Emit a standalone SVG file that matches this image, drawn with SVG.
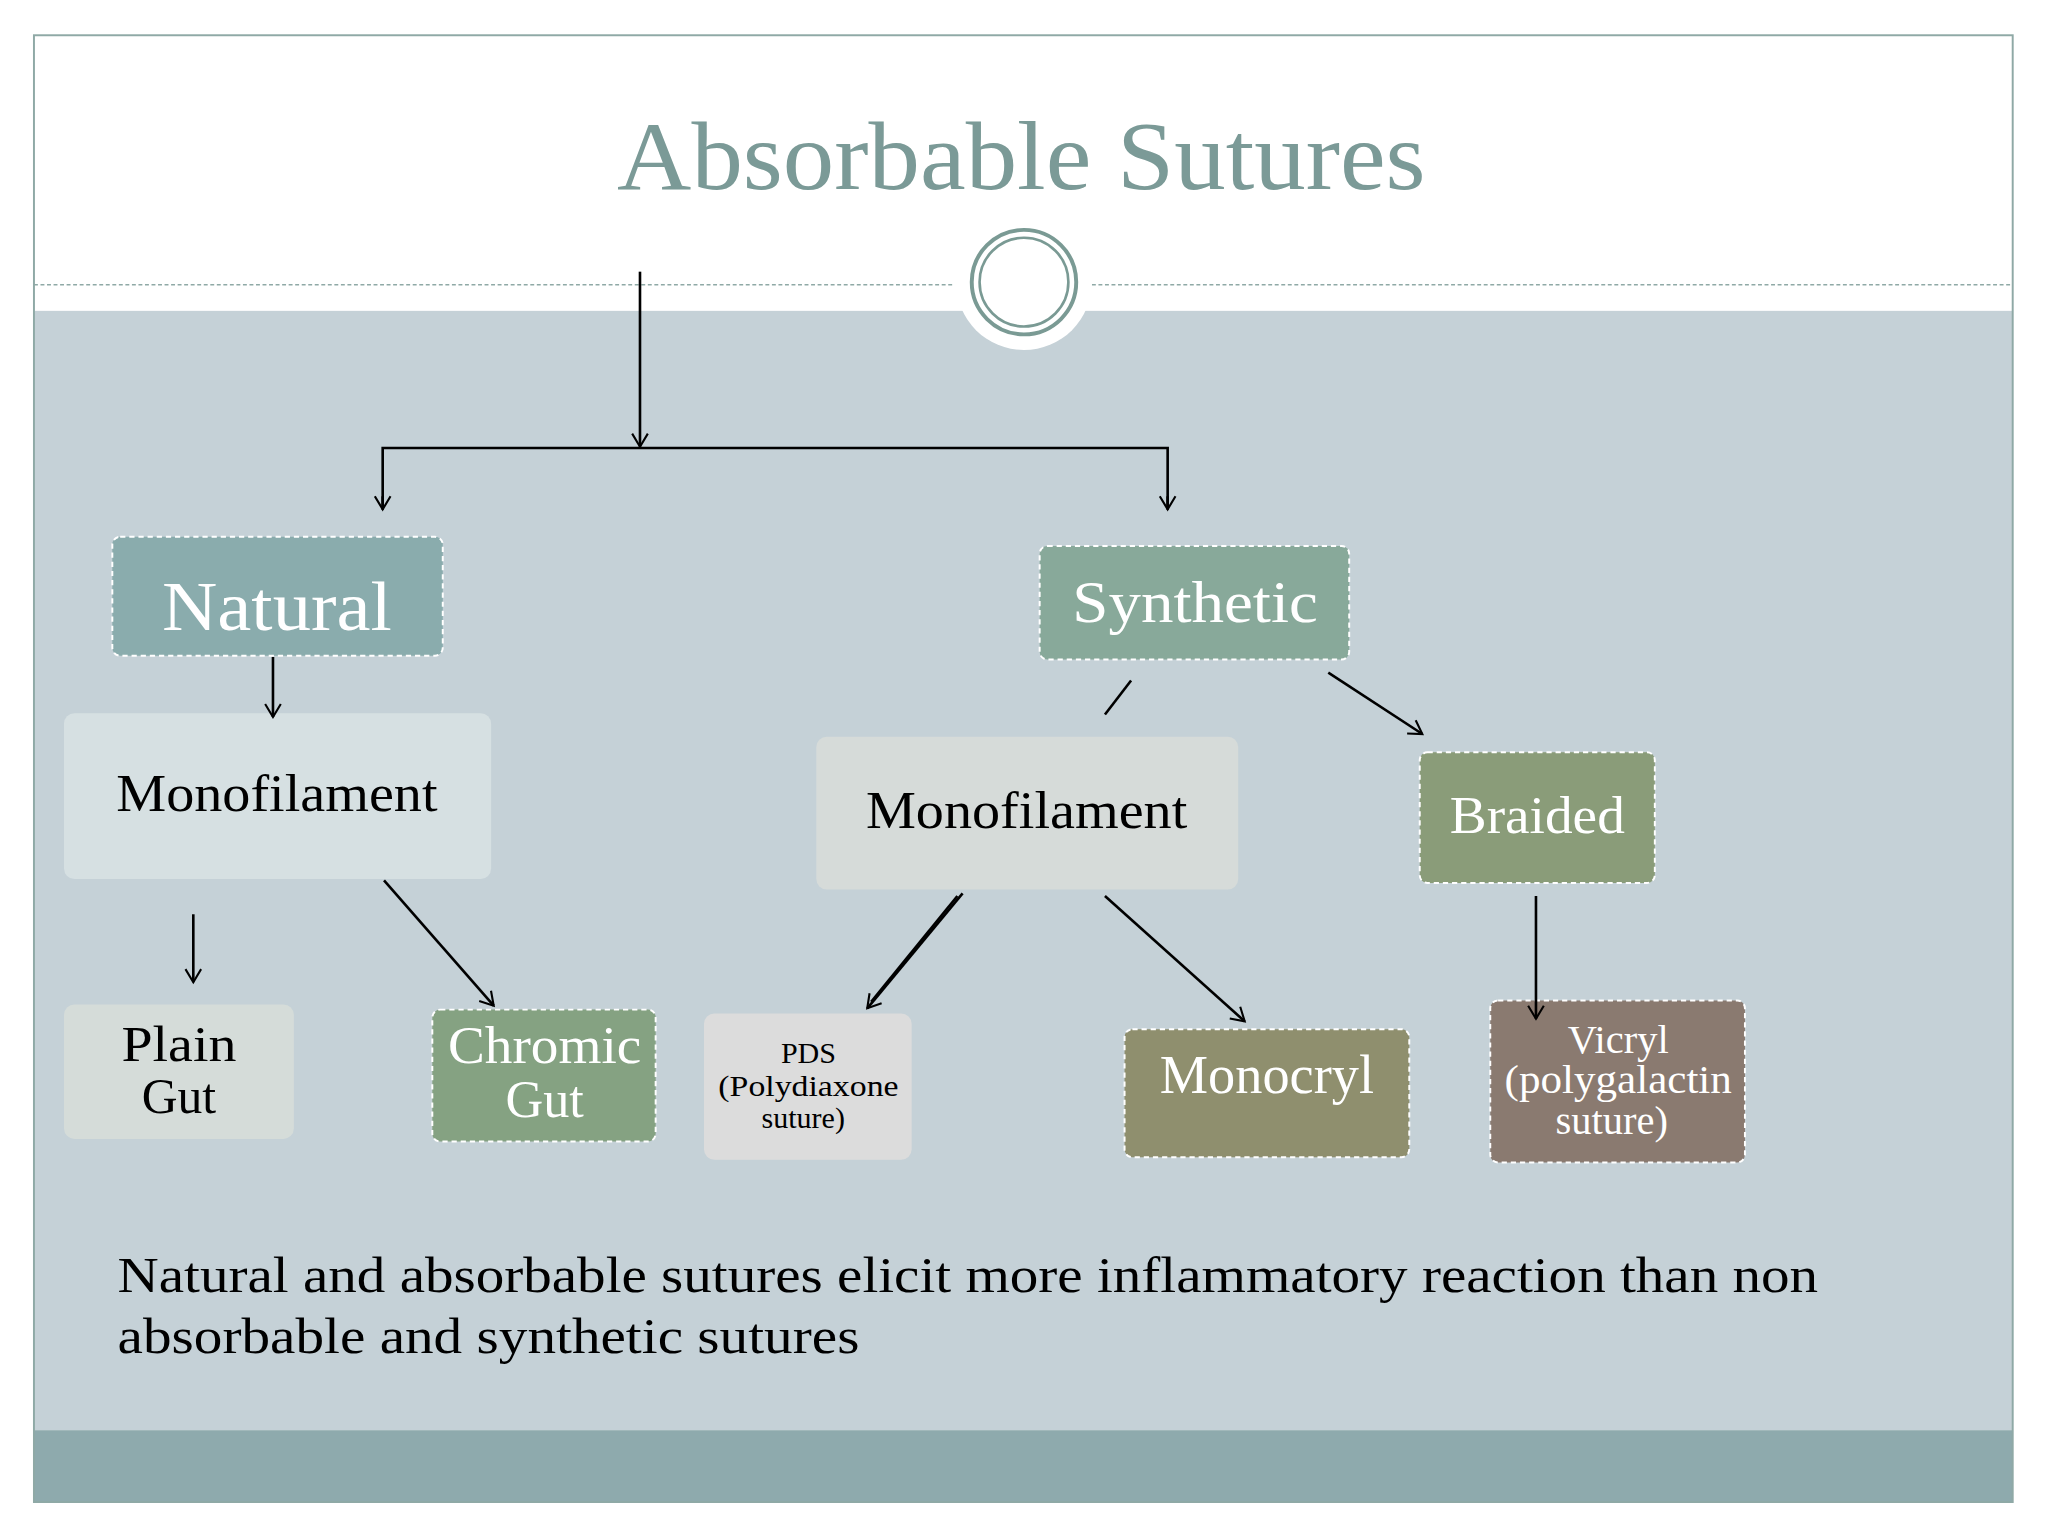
<svg xmlns="http://www.w3.org/2000/svg" width="2048" height="1536" viewBox="0 0 2048 1536">
<defs>
<marker id="ah" markerWidth="14" markerHeight="14" refX="11" refY="7" orient="auto" markerUnits="userSpaceOnUse"><path d="M1,1 L11,7 L1,13" fill="none" stroke="#000" stroke-width="1.6"/></marker>
<style>
.t{font-family:"Liberation Serif","DejaVu Serif",serif;text-anchor:middle}
.w{fill:#fff}
.b{fill:#000}
.dash{stroke:#fff;stroke-width:1.5;stroke-dasharray:4 3}
.c{stroke:#000;stroke-width:2;fill:none}
</style>
</defs>
<rect width="2048" height="1536" fill="#fff"/>
<g transform="scale(1.3061)">
<rect x="26" y="238" width="1515" height="857" fill="#c5d1d7"/>
<rect x="26" y="1095" width="1515" height="55" fill="#8eaaad"/>
<rect x="26" y="27" width="1515" height="1123" fill="none" stroke="#8fa9a6" stroke-width="1.5"/>
<line x1="26" y1="218" x2="730" y2="218" stroke="#8fa9a6" stroke-dasharray="3 2"/>
<line x1="836" y1="218" x2="1541" y2="218" stroke="#8fa9a6" stroke-dasharray="3 2"/>
<circle cx="784" cy="216" r="52" fill="#fff"/>
<circle cx="784" cy="216" r="40" fill="none" stroke="#7a9a94" stroke-width="3"/>
<circle cx="784" cy="216" r="34" fill="none" stroke="#7a9a94" stroke-width="2"/>
<text class="t" x="782" y="145" font-size="74" fill="#7b9a97" textLength="619" lengthAdjust="spacingAndGlyphs">Absorbable Sutures</text>
<g id="natural"><rect x="86" y="411" width="253" height="91" rx="6" fill="#8aacad" class="dash"/><text class="t w" x="212" y="482" font-size="54" textLength="176" lengthAdjust="spacingAndGlyphs">Natural</text></g>
<g id="mono-left"><rect x="49" y="546" width="327" height="127" rx="8" fill="#d6e0e2"/><text class="t b" x="212" y="621" font-size="40" textLength="246" lengthAdjust="spacingAndGlyphs">Monofilament</text></g>
<g id="plain-gut"><rect x="49" y="769" width="176" height="103" rx="8" fill="#d5dcd9"/><text class="t b" x="137" y="812" font-size="38" textLength="88" lengthAdjust="spacingAndGlyphs">Plain</text><text class="t b" x="137" y="852" font-size="38">Gut</text></g>
<g id="chromic-gut"><rect x="331" y="773" width="171" height="101" rx="6" fill="#85a282" class="dash"/><text class="t w" x="417" y="814" font-size="40" textLength="148" lengthAdjust="spacingAndGlyphs">Chromic</text><text class="t w" x="417" y="855" font-size="40">Gut</text></g>
<g id="synthetic"><rect x="796" y="418" width="237" height="87" rx="6" fill="#88a99a" class="dash"/><text class="t w" x="915" y="476" font-size="46" textLength="188" lengthAdjust="spacingAndGlyphs">Synthetic</text></g>
<g id="mono-right"><rect x="625" y="564" width="323" height="117" rx="8" fill="#d6dbd9"/><text class="t b" x="786" y="634" font-size="40" textLength="246" lengthAdjust="spacingAndGlyphs">Monofilament</text></g>
<g id="braided"><rect x="1087" y="576" width="180" height="100" rx="6" fill="#8a9c79" class="dash"/><text class="t w" x="1177" y="638" font-size="40" textLength="134" lengthAdjust="spacingAndGlyphs">Braided</text></g>
<g id="pds"><rect x="539" y="776" width="159" height="112" rx="8" fill="#dcdcdc"/><text class="t b" x="619" y="814" font-size="23">PDS</text><text class="t b" x="619" y="839" font-size="23" textLength="138" lengthAdjust="spacingAndGlyphs">(Polydiaxone</text><text class="t b" x="615" y="864" font-size="23">suture)</text></g>
<g id="monocryl"><rect x="861" y="788" width="218" height="98" rx="6" fill="#8f8f6e" class="dash"/><text class="t w" x="970" y="837" font-size="42" textLength="164" lengthAdjust="spacingAndGlyphs">Monocryl</text></g>
<g id="vicryl"><rect x="1141" y="766" width="195" height="124" rx="6" fill="#8a7a70" class="dash"/><text class="t w" x="1239" y="806" font-size="31">Vicryl</text><text class="t w" x="1239" y="837" font-size="31" textLength="174" lengthAdjust="spacingAndGlyphs">(polygalactin</text><text class="t w" x="1234" y="868" font-size="31">suture)</text></g>
<g id="connectors">
<line class="c" x1="490" y1="208" x2="490" y2="342" marker-end="url(#ah)"/>
<polyline class="c" points="293,390 293,343 894,343 894,390"/>
<line class="c" x1="293" y1="380" x2="293" y2="390" marker-end="url(#ah)"/>
<line class="c" x1="894" y1="380" x2="894" y2="390" marker-end="url(#ah)"/>
<line class="c" x1="209" y1="503" x2="209" y2="549" marker-end="url(#ah)"/>
<line class="c" x1="148" y1="700" x2="148" y2="752" marker-end="url(#ah)" stroke-width="2.5"/>
<line class="c" x1="294" y1="674" x2="378" y2="770" marker-end="url(#ah)"/>
<line class="c" x1="866" y1="521" x2="846" y2="547"/>
<line class="c" x1="1017" y1="515" x2="1089" y2="562" marker-end="url(#ah)"/>
<line class="c" x1="737" y1="684" x2="664" y2="772" marker-end="url(#ah)"/>
<line class="c" x1="733" y1="686" x2="667" y2="767"/>
<line class="c" x1="846" y1="686" x2="953" y2="782" marker-end="url(#ah)"/>
<line class="c" x1="1176" y1="686" x2="1176" y2="780" marker-end="url(#ah)"/>
</g>
<text font-family="Liberation Serif,serif" font-size="38" fill="#000" x="90" y="989" textLength="1302" lengthAdjust="spacingAndGlyphs">Natural and absorbable sutures elicit more inflammatory reaction than non</text>
<text font-family="Liberation Serif,serif" font-size="38" fill="#000" x="90" y="1036" textLength="568" lengthAdjust="spacingAndGlyphs">absorbable and synthetic sutures</text>
</g>
</svg>
